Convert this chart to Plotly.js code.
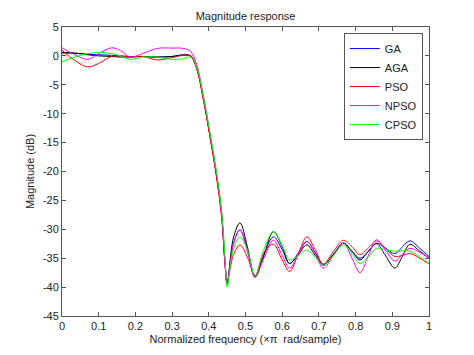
<!DOCTYPE html>
<html><head><meta charset="utf-8">
<script src="https://cdn.plot.ly/plotly-3.0.1.min.js"></script>
<style>html,body{margin:0;padding:0;background:#fff}</style>
</head><body><div id="chart" style="width:474px;height:355px"></div>
<script>
const freq = [0, 0.035, 0.07, 0.1, 0.135, 0.16, 0.185, 0.22, 0.26, 0.3, 0.33, 0.35,
  0.367, 0.385, 0.403, 0.421, 0.435, 0.444,
  0.45, 0.467, 0.485, 0.505, 0.526, 0.55, 0.576, 0.6, 0.62, 0.645, 0.667, 0.69, 0.712,
  0.74, 0.767, 0.79, 0.812, 0.835, 0.857, 0.88, 0.907, 0.928, 0.948, 0.975, 1.0];
const gaDb = [0.5,0.45,0.3,0.2,0.1,0.0,-0.1,-0.1,-0.2,-0.1,0.1,0.0,
  -2.1,-7.3,-13.7,-20.6,-27.5,-35.6,
  -39.3,-32.5,-30.1,-33.5,-38.2,-34.5,-31.3,-33.5,-35.9,-34.0,-32.1,-34.0,-36.2,-34.3,-32.4,-33.8,-35.0,-33.8,-32.4,-33.2,-34.2,-33.0,-32.0,-33.3,-34.7];
const agaDb = [0.6,0.5,0.2,0.0,-0.1,-0.2,-0.2,-0.1,-0.2,-0.1,0.2,0.0,
  -2.1,-7.3,-13.7,-20.6,-27.5,-35.6,
  -39.4,-31.5,-28.9,-33.0,-38.3,-34.5,-30.4,-33.0,-35.9,-34.3,-32.7,-34.5,-36.2,-34.3,-32.4,-33.8,-35.3,-33.8,-32.5,-34.4,-36.7,-34.6,-32.6,-33.8,-35.0];
const psoDb = [1.0,-0.8,-1.9,-1.3,-0.1,0.0,-0.2,-0.1,-0.7,-0.3,0.1,0.0,
  -2.3,-7.6,-14.0,-21.0,-28.0,-36.0,
  -39.0,-34.5,-32.7,-34.8,-38.0,-34.0,-32.6,-35.3,-37.3,-34.0,-31.3,-33.5,-36.0,-33.8,-31.9,-33.0,-34.4,-33.2,-32.0,-33.2,-34.7,-34.5,-34.2,-35.0,-36.0];
const npsoDb = [1.4,0.2,-0.6,0.4,1.4,0.9,-0.2,0.4,1.3,1.35,1.3,0.8,
  -1.5,-6.8,-13.3,-20.3,-27.3,-35.5,
  -39.5,-32.5,-30.1,-33.8,-38.2,-35.0,-31.9,-34.5,-36.7,-34.3,-32.1,-34.2,-36.7,-34.5,-32.4,-35.0,-37.5,-34.5,-31.8,-33.5,-35.5,-34.3,-33.3,-34.0,-35.0];
const cpsoDb = [-1.0,-0.2,0.4,0.6,0.4,0.0,-0.6,-0.2,-0.2,-0.6,-0.5,-0.2,
  -2.0,-7.0,-13.2,-20.0,-26.8,-34.5,
  -40.0,-33.5,-31.3,-33.5,-38.0,-33.5,-30.4,-32.8,-35.3,-34.5,-33.6,-34.8,-36.2,-34.5,-32.7,-34.3,-35.9,-34.8,-33.3,-33.5,-33.8,-33.7,-33.8,-34.8,-35.9];

const seriesNames = ['GA', 'AGA', 'PSO', 'NPSO', 'CPSO'];
const seriesValues = [gaDb, agaDb, psoDb, npsoDb, cpsoDb];
const seriesColors = ['#0000ff', '#000000', '#ff0000', '#ff00ff', '#00ff00'];

const xTickVals = [0, 0.1, 0.2, 0.3, 0.4, 0.5, 0.6, 0.7, 0.8, 0.9, 1];
const xTickText = ['0', '0.1', '0.2', '0.3', '0.4', '0.5', '0.6', '0.7', '0.8', '0.9', '1'];
const yTickVals = [5, 0, -5, -10, -15, -20, -25, -30, -35, -40, -45];
const yTickText = ['5', '0', '-5', '-10', '-15', '-20', '-25', '-30', '-35', '-40', '-45'];

const traces = seriesNames.map((n, i) => ({
  x: freq, y: seriesValues[i], name: n, type: 'scatter', mode: 'lines',
  line: {color: seriesColors[i], width: 1, shape: 'spline', smoothing: 1}
}));

const font = {family: 'Arial, "Liberation Sans", sans-serif', size: 11, color: '#222'};
const axisCommon = {
  showline: true, mirror: 'ticks', linecolor: '#555', linewidth: 1,
  ticks: 'inside', ticklen: 4, tickcolor: '#555', tickwidth: 1,
  showgrid: false, zeroline: false, tickmode: 'array',
  tickfont: {family: font.family, size: 11, color: '#222'}
};

const layout = {
  width: 474, height: 355,
  margin: {l: 62, r: 45, t: 27, b: 39, pad: 0},
  paper_bgcolor: '#fff', plot_bgcolor: '#fff',
  font: font,
  showlegend: true,
  title: {text: 'Magnitude response', font: {family: font.family, size: 11, color: '#222'},
    x: 0.518, xanchor: 'center', y: 0.955, yanchor: 'middle'},
  xaxis: Object.assign({}, axisCommon, {range: [0, 1], tickvals: xTickVals, ticktext: xTickText,
    title: {text: 'Normalized frequency (×π  rad/sample)', font: {family: font.family, size: 11, color: '#222'}, standoff: 4}}),
  yaxis: Object.assign({}, axisCommon, {range: [-45, 5], tickvals: yTickVals, ticktext: yTickText,
    title: {text: 'Magnitude (dB)', font: {family: font.family, size: 11, color: '#222'}, standoff: 6}}),
  legend: {x: 0.768, y: 0.979, xanchor: 'left', yanchor: 'top',
    bgcolor: '#fff', bordercolor: '#555', borderwidth: 1,
    font: {family: font.family, size: 11, color: '#222'}, tracegroupgap: 0}
};

Plotly.newPlot('chart', traces, layout, {displayModeBar: false, staticPlot: true});
</script>
</body></html>
